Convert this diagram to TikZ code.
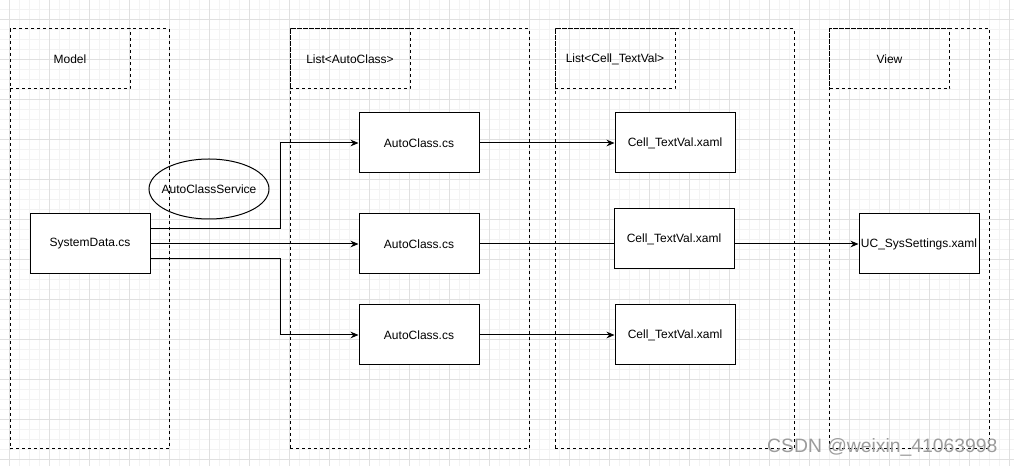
\documentclass[tikz,border=0pt]{standalone}
\usepackage{fontspec}
\setmainfont{Liberation Sans}
\usepackage{tikz}
\usetikzlibrary{positioning,arrows.meta,shapes.geometric}
\definecolor{gridmajor}{HTML}{E0E0E0}
\definecolor{gridminor}{HTML}{F3F3F3}
\definecolor{markgray}{HTML}{9C9C9C}

\begin{document}
\begin{tikzpicture}[x=0.75pt, y=-0.75pt, line width=0.75pt,
    font=\fontsize{9}{11}\selectfont,
    lane/.style={draw, dash pattern=on 2.25pt off 2.25pt, inner sep=0pt, minimum height=315pt},
    lanehead/.style={draw, dash pattern=on 2.25pt off 2.25pt, inner sep=0pt, minimum width=90pt, minimum height=45pt, anchor=north west},
    box/.style={draw, fill=white, inner sep=1pt, minimum width=90pt, minimum height=45pt},
    flow/.style={-{Stealth[length=6pt, width=5pt]}}]
    \useasboundingbox[fill=white] (0,0) rectangle (1014,466);
    % background grid
    \draw[gridminor, line width=0.5pt, step=7.5pt, xshift=6.75pt, yshift=-6.75pt] (-9,-9) grid (1005,457);
    \draw[gridmajor, line width=0.6pt, step=30pt, xshift=6.75pt, yshift=-14.25pt] (-9,-19) grid (1005,447);

    % lanes
    \node[lane, minimum width=119.25pt] (model) at (89.5,239) {};
    \node[lanehead] (modelhead) at (model.north west) {Model};
    \node[lane, minimum width=179.25pt] (autolist) at (409.5,239) {};
    \node[lanehead] (autohead) at (autolist.north west) {List<AutoClass>};
    \node[lane, minimum width=179.25pt] (celllist) at (674.5,239) {};
    \node[lanehead] (cellhead) at (celllist.north west) {List<Cell\_TextVal>};
    \node[lane, minimum width=120pt] (view) at (909.5,239) {};
    \node[lanehead] (viewhead) at (view.north west) {View};

    % items
    \node[box] (sys) at (90,244) {SystemData.cs};
    \node[draw, ellipse, inner xsep=-4pt, inner ysep=0pt, minimum width=90pt, minimum height=45pt] (service) at (209,189) {AutoClassService};
    \node[box] (ac2) at (419,244) {AutoClass.cs};
    \node[box, above=30pt of ac2] (ac1) {AutoClass.cs};
    \node[box, below=22.5pt of ac2] (ac3) {AutoClass.cs};
    \node[box] (uc) at (919,244) {UC\_SysSettings.xaml};

    \draw[flow] (ac2) -- (uc);
    \node[box] (cell2) at (674,239) {Cell\_TextVal.xaml};
    \node[box, right=101.25pt of ac1] (cell1) {Cell\_TextVal.xaml};
    \node[box, right=101.25pt of ac3] (cell3) {Cell\_TextVal.xaml};

    \draw[flow] ([yshift=11.25pt]sys.east) -- ++(130,0) |- (ac1);
    \draw[flow] (sys) -- (ac2);
    \draw[flow] ([yshift=-11.25pt]sys.east) -- ++(130,0) |- (ac3);
    \draw[flow] (ac1) -- (cell1);
    \draw[flow] (ac3) -- (cell3);

    \node[text=markgray, anchor=east, inner sep=0pt, font=\fontsize{14.5}{16}\selectfont] (mark) at (998,447) {CSDN @weixin\_41063998};
  \end{tikzpicture}
\end{document}
